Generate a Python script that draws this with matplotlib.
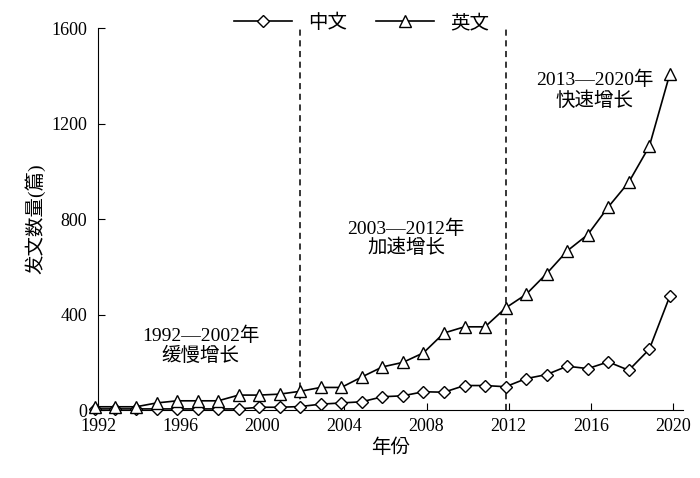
import numpy as np
import matplotlib
matplotlib.use("Agg")
from matplotlib import pyplot as plt
from matplotlib import font_manager

# pick whatever CJK family is actually registered
names = set(f.name for f in font_manager.fontManager.ttflist)
cjk = next((n for n in ["Noto Sans CJK SC", "Noto Sans CJK JP", "Noto Sans CJK TC",
                        "Noto Sans CJK KR", "Noto Serif CJK SC"] if n in names), "DejaVu Sans")
plt.rcParams["font.family"] = ["Liberation Serif", cjk]
plt.rcParams["font.size"] = 13

years = np.arange(1992, 2021)
chinese = [5, 5, 5, 5, 5, 5, 5, 5, 12, 12, 15, 25, 30, 35, 56, 60, 77, 75, 103, 103,
           98, 132, 149, 184, 174, 202, 167, 255, 478]
english = [14, 14, 14, 30, 39, 39, 39, 63, 63, 67, 79, 95, 95, 139, 181, 200, 240, 323,
           349, 349, 428, 485, 572, 667, 735, 851, 955, 1105, 1409]
split_years = [2002, 2012]
stage_labels = [(1997, 270, "1992—2002年\n缓慢增长"),
                (2007, 720, "2003—2012年\n加速增长"),
                (2016.2, 1340, "2013—2020年\n快速增长")]

fig = plt.figure(figsize=(7, 4.78), dpi=100)
ax = fig.add_axes([0.14, 0.142, 0.836, 0.799])

ax.plot(years - 0.15, chinese, "k-", marker="D", markersize=6, mfc="white", mec="black",
        lw=1.2, label="中文", clip_on=False, zorder=3)
ax.plot(years - 0.15, english, "k-", marker="^", markersize=8, mfc="white", mec="black",
        lw=1.2, label="英文", clip_on=False, zorder=3)

for yr in split_years:
    ax.axvline(yr - 0.15, color="black", ls=(0, (4, 3)), lw=1.1)

for x, y, txt in stage_labels:
    ax.text(x, y, txt, ha="center", va="center", fontsize=14, linespacing=1.1)

ax.set_xlim(1992, 2020.5)
ax.set_ylim(0, 1600)
ax.set_xticks(range(1992, 2021, 4))
ax.set_yticks(range(0, 1601, 400))
ax.tick_params(direction="in", length=5, labelsize=13)
ax.tick_params(axis="x", pad=6)
ax.tick_params(axis="y", pad=8)
ax.spines["top"].set_visible(False)
ax.spines["right"].set_visible(False)
ax.set_xlabel("年份", fontsize=14, labelpad=2)
ax.set_ylabel("发文数量(篇)", fontsize=14)

ax.legend(loc="lower center", bbox_to_anchor=(0.45, 0.97), ncol=2, frameon=False,
          fontsize=14, handlelength=3, columnspacing=1.5, borderaxespad=0)

fig.savefig("out.png")
